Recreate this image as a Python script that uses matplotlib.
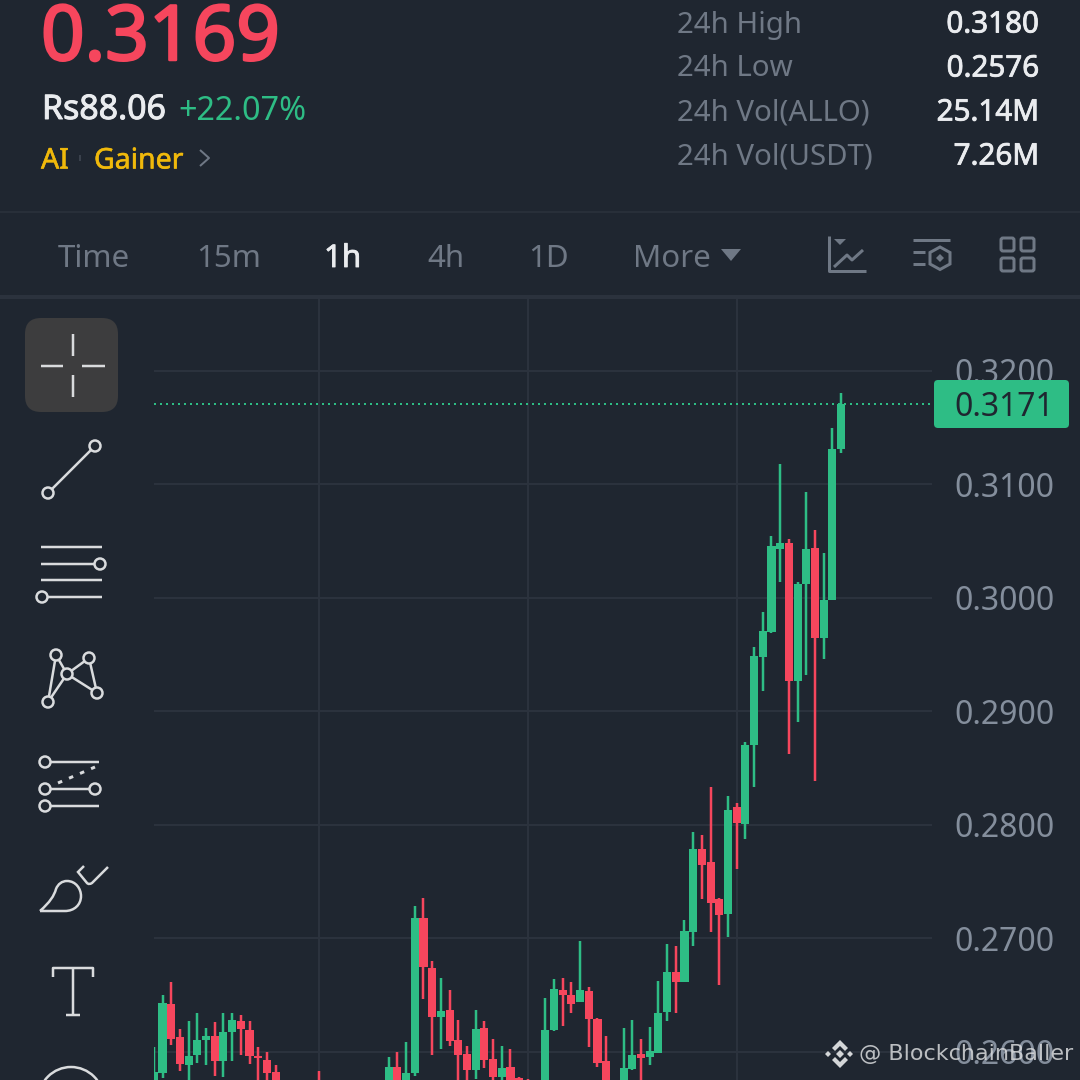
import numpy as np
import matplotlib
matplotlib.use("Agg")
import matplotlib.pyplot as plt
import matplotlib.patheffects as pe
from matplotlib.patches import Circle, FancyBboxPatch, PathPatch, Polygon
from matplotlib.path import Path

plt.rcParams['font.family'] = ['Noto Sans', 'DejaVu Sans']

na = float('nan')

# hourly candles, oldest first (na = below the visible part of the chart)
opens = [
    .25709, .25815, .26423, .26132, .25885, .25974, .26106, .26141, .25921, .26176,
    .26273, .26194, .25965, .2593, .25824, na, na, na, na, .25709,
    na, na, na, na, na, na, na, .25709, .25868, .25665,
    .25815, .27181, .2674, .26308, .2637, .26106, .25982, .25841, .26211, .25938,
    .2578, .25868, .25771, .25745, na, .25621, .26194, .26546, .26502, .26441,
    .26537, .26291, .25921, na, .25709, .2585, .25982, .25956, .25991, .26352,
    .26705, .26617, .27057, .27788, .27674, .27348, .27216, .28158, .28009, .28705,
    .2948, .297, .30431, .30484, .29269, .30123, .3044, .29647, .29982, .31312,
]
closes = [
    .25824, .26432, .26115, .25894, .25965, .26106, .26141, .25921, .26176, .26282,
    .26203, .25965, .25947, .25815, .25665, na, na, na, na, .25621,
    na, na, na, na, na, na, na, .25868, .25709, .25815,
    .27181, .26749, .26308, .26361, .26097, .25974, .25841, .26203, .2593, .2578,
    .25859, .25709, .25665, .25665, na, .26194, .26555, .26502, .26423, .26546,
    .26291, .25903, .25709, na, .25859, .25974, .25947, .26009, .26344, .26705,
    .26617, .27066, .27788, .27647, .27313, .27207, .28132, .28017, .28705, .29489,
    .29709, .30458, .30484, .29269, .30123, .30431, .29647, .29982, .31312, .31709,
]
highs = [
    .26044, .26502, .26617, .26203, .26273, .26344, .26211, .26264, .26344, .26344,
    .26326, .26273, .26044, .26, .25885, na, na, na, na, .25833,
    na, na, na, na, na, na, na, .25956, .26, .26088,
    .27286, .27357, .26802, .26652, .26546, .26282, .26053, .2637, .26273, .26115,
    .26053, .26026, .2578, .25762, na, .26476, .26643, .26652, .26617, .26978,
    .26573, .263, .26141, na, .26211, .26282, .26115, .2622, .26626, .26951,
    .26934, .27163, .27938, .27912, .28335, .27357, .28255, .28194, .28731, .29568,
    .29876, .30546, .3118, .3052, .30141, .30934, .30599, .30396, .31497, .31806,
]
lows = [
    .25665, .25771, .26062, .25833, .25709, .25903, .25885, .25789, .2578, .25921,
    .25974, .25894, .25709, .25709, .25621, na, na, na, na, .25577,
    na, na, na, na, na, na, na, .25665, .25665, .25621,
    .25789, .26467, .25974, .26026, .26053, .25709, .25709, .25762, .25859, .25709,
    .25709, .25665, .25621, .25621, na, .25577, .26185, .26229, .26344, .26441,
    .26044, .25868, .25665, na, .25665, .25841, .25709, .25885, .25991, .26273,
    .26344, .26617, .26934, .27348, .27057, .2659, .27013, .27612, .27877, .28335,
    .2918, .29691, .30141, .28625, .28907, .29321, .28388, .29462, .29982, .31277,
]

price_ticks = [0.26, 0.27, 0.28, 0.29, 0.30, 0.31, 0.32]
time_ticks = [19, 43, 67]
last_price = 0.3171

stat_names = ['24h High', '24h Low', '24h Vol(ALLO)', '24h Vol(USDT)']
stat_values = ['0.3180', '0.2576', '25.14M', '7.26M']
tab_names = ['Time', '15m', '1h', '4h', '1D', 'More']

BG = '#1f2630'
GRID = '#2b323d'
GREEN = '#2ebd85'
RED = '#f6465d'
GREY = '#848e9c'
ICON = '#d9dbdd'
TOOL = '#6f7885'
YELLOW = '#f0b90b'
WHITE = '#eaecef'
PX = 72 / 100  # one pixel in points


def line(ax, xs, ys, color=ICON, width=2.5, **kw):
    ax.plot(xs, ys, color=color, lw=width * PX, solid_capstyle='butt', **kw)


def ring(ax, x, y, r=5.5):
    ax.add_patch(Circle((x, y), r, fc=BG, ec=ICON, lw=2.5 * PX, zorder=5))


def heavy(color, w):
    # the installed font only draws regular here, so thicken it with a stroke
    return [pe.withStroke(linewidth=w, foreground=color)]


def draw_tool_icons(ui):
    # crosshair button
    ui.add_patch(FancyBboxPatch((37, 330), 69, 70, boxstyle='round,pad=12,rounding_size=16',
                                fc='#3d3d3e', ec='none'))
    line(ui, [73, 73], [334, 356])
    line(ui, [73, 73], [375, 397])
    line(ui, [41, 63], [366, 366])
    line(ui, [82, 105], [366, 366])

    # trend line
    line(ui, [48, 95], [493, 446])
    ring(ui, 48, 493)
    ring(ui, 95, 446)

    # parallel lines
    for y, x0, x1 in [(547, 41, 102), (564, 41, 96), (580, 41, 102), (597, 44, 102)]:
        line(ui, [x0, x1], [y, y])
    ring(ui, 100, 564)
    ring(ui, 42, 597)

    # pattern
    pts = {'a': (56, 655), 'b': (89, 658), 'c': (67, 674), 'd': (48, 702), 'e': (97, 693)}
    for p, q in ['ad', 'ac', 'cb', 'be', 'ce', 'cd']:
        line(ui, [pts[p][0], pts[q][0]], [pts[p][1], pts[q][1]])
    for p in pts.values():
        ring(ui, *p)

    # fib
    line(ui, [45, 99], [762, 762])
    line(ui, [58, 95], [783, 767], width=3, linestyle=(0, (1.5, 2.5)))
    line(ui, [45, 95], [789, 789])
    line(ui, [45, 99], [806, 806])
    for x, y in [(45, 762), (45, 789), (95, 789), (45, 806)]:
        ring(ui, x, y)

    # brush
    head = Path([(40, 911), (50, 902), (54, 896), (56, 889), (58, 884), (62, 881), (67, 881),
                 (76, 881), (81, 889), (81, 896), (81, 905), (74, 911), (65, 911), (40, 911)],
                [Path.MOVETO] + [Path.CURVE4] * 12 + [Path.LINETO])
    ui.add_patch(PathPatch(head, fc='none', ec=ICON, lw=2.5 * PX))
    handle = Path([(84, 866), (78, 872), (87, 883), (89, 885), (92, 883), (108, 867)],
                  [Path.MOVETO, Path.LINETO, Path.LINETO, Path.CURVE3, Path.CURVE3, Path.LINETO])
    ui.add_patch(PathPatch(handle, fc='none', ec=ICON, lw=2.5 * PX))

    # text
    line(ui, [53, 53, 93, 93], [977, 968, 968, 977])
    line(ui, [73, 73], [968, 1015])
    line(ui, [66, 80], [1015, 1015])

    # next tool, cut off by the bottom edge
    ui.add_patch(Circle((71, 1099.5), 32.5, fc='none', ec=ICON, lw=2.5 * PX))


def draw_toolbar_icons(ui):
    # chart type
    line(ui, [829, 829, 866], [236, 271, 271], color=TOOL, width=3)
    ui.add_patch(Polygon([(834, 239), (846, 239), (840, 245)], fc=TOOL, ec='none'))
    line(ui, [834, 847, 852, 863], [267, 255, 260, 250], color=TOOL, width=3)

    # settings
    line(ui, [913, 950], [240, 240], color=TOOL, width=3)
    line(ui, [913, 925], [252, 252], color=TOOL, width=3)
    line(ui, [913, 925], [264, 264], color=TOOL, width=3)
    ui.add_patch(Polygon([(940, 247), (950, 252.5), (950, 264), (940, 269.5), (930, 264), (930, 252.5)],
                         fc='none', ec=TOOL, lw=3 * PX))
    ui.add_patch(Polygon([(940, 254), (944, 258), (940, 262), (936, 258)], fc=TOOL, ec='none'))

    # layout
    for x in (1001, 1021):
        for y in (238, 258):
            ui.add_patch(FancyBboxPatch((x + 2, y + 2), 9, 9, boxstyle='round,pad=2,rounding_size=2',
                                        fc='none', ec=TOOL, lw=3 * PX))


def draw_watermark(ui):
    # exchange logo made of small diamonds
    c = '#d4d6d8'
    for x, y, r in [(828, 1054, 3), (850, 1054, 3), (840, 1054, 4)]:
        ui.add_patch(Polygon([(x, y - r), (x + r, y), (x, y + r), (x - r, y)], fc=c, ec='none'))
    ui.add_patch(Polygon([(840, 1040), (848, 1048), (845, 1051), (840, 1046), (835, 1051), (832, 1048)],
                         fc=c, ec='none'))
    ui.add_patch(Polygon([(840, 1068), (848, 1060), (845, 1057), (840, 1062), (835, 1057), (832, 1060)],
                         fc=c, ec='none'))
    ui.text(859, 1054, '@ BlockchainBaller', color='#d8dadc', fontsize=16, family='DejaVu Sans',
            va='center', ha='left', alpha=0.85)


fig = plt.figure(figsize=(10.8, 10.8), dpi=100, facecolor=BG)

# ---- price chart ----
ax = fig.add_axes([154 / 1080, 0, (932 - 154) / 1080, (1080 - 298) / 1080], facecolor=BG)
o = np.array(opens)
c = np.array(closes)
h = np.array(highs)
l = np.array(lows)
idx = np.arange(len(o))
colors = [GREEN if b >= a else RED for a, b in zip(o, c)]

ax.vlines(idx, l, h, colors=colors, lw=2.5 * PX, zorder=3)
ax.bar(idx, c - o, bottom=o, width=0.92, color=colors, linewidth=0, zorder=4)
ax.axhline(last_price, color=GREEN, lw=2 * PX, linestyle=(0, (1, 2)), zorder=2)

ax.set_xlim((154 - 153.8) / 8.7, (932 - 153.8) / 8.7)
ax.set_ylim(0.26 + (1052 - 1080) * 0.0000881, 0.26 + (1052 - 298) * 0.0000881)
ax.set_xticks(time_ticks)
ax.set_xticklabels([])
ax.set_yticks(price_ticks)
ax.set_yticklabels([f'{p:.4f}' for p in price_ticks])
ax.yaxis.tick_right()
ax.tick_params(length=0, pad=15.8, labelsize=23, labelcolor=GREY)
ax.grid(True, color=GRID, lw=2 * PX)
ax.set_axisbelow(True)
for s in ax.spines.values():
    s.set_visible(False)

# ---- everything else, in pixel coordinates ----
ui = fig.add_axes([0, 0, 1, 1], facecolor='none', zorder=10)
ui.set_xlim(0, 1080)
ui.set_ylim(1080, 0)
ui.axis('off')

ui.text(41, 40, '0.3169', color=RED, fontsize=55, va='center', ha='left', path_effects=heavy(RED, 1.8))
ui.text(42, 110, 'Rs88.06', color=WHITE, fontsize=24.4, va='center', ha='left', path_effects=heavy(WHITE, 0.7))
ui.text(178, 111, '+22.07%', color=GREEN, fontsize=23.3, va='center', ha='left')
ui.text(41, 161, 'AI', color=YELLOW, fontsize=20.5, va='center', ha='left', path_effects=heavy(YELLOW, 0.4))
ui.text(94, 161, 'Gainer', color=YELLOW, fontsize=20.5, va='center', ha='left', path_effects=heavy(YELLOW, 0.4))
line(ui, [80, 80], [155, 161], color='#3a414c', width=2)
line(ui, [200, 209, 200], [150, 158, 166], color=TOOL, width=2)

for i, (name, value) in enumerate(zip(stat_names, stat_values)):
    y = 25 + 44 * i
    ui.text(677, y, name, color=TOOL, fontsize=21.2, va='center', ha='left')
    ui.text(1039, y, value, color=WHITE, fontsize=21.3, va='center', ha='right', path_effects=heavy(WHITE, 0.6))

line(ui, [0, 1080], [212, 212], color=GRID, width=1.5)
line(ui, [0, 1080], [297, 297], color=GRID, width=4)

for name, x in zip(tab_names, [58, 196, 324, 427, 528, 633]):
    if name == '1h':
        ui.text(x, 259, name, color=WHITE, fontsize=22.5, va='center', ha='left', path_effects=heavy(WHITE, 0.6))
    else:
        ui.text(x, 259, name, color=TOOL, fontsize=22.5, va='center', ha='left')
ui.add_patch(Polygon([(721, 249), (741, 249), (731, 261)], fc=TOOL, ec='none'))

draw_tool_icons(ui)
draw_toolbar_icons(ui)

# last price tag
ui.add_patch(FancyBboxPatch((938, 384), 127, 40, boxstyle='round,pad=4,rounding_size=4', fc=GREEN, ec='none'))
ui.text(1004, 408, f'{last_price:.4f}', color=BG, fontsize=23, va='center', ha='center')

draw_watermark(ui)

fig.savefig('out.png', dpi=100, facecolor=BG)
